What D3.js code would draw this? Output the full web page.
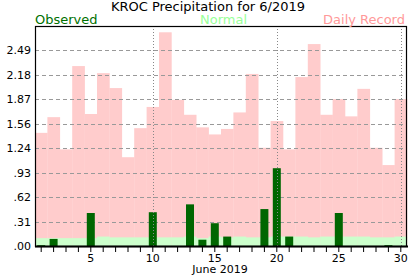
<!DOCTYPE html>
<html><head><meta charset="utf-8">
<script src="https://cdn.jsdelivr.net/npm/d3@7"></script>
<style>body{margin:0;background:#fff}svg{display:block}text{font-family:"DejaVu Sans",Verdana,sans-serif}</style>
</head><body><svg id="c" width="417" height="276"></svg>
<script>
const days = d3.range(1, 31);
const record = [1.44,1.64,1.23,2.29,1.68,2.20,2.01,1.13,1.50,1.77,2.72,1.86,1.67,1.51,1.42,1.49,1.70,2.19,1.25,1.59,1.23,2.15,2.57,1.67,1.87,1.65,2.00,1.25,1.03,1.87];
const normal = [0.10,0.10,0.10,0.10,0.10,0.12,0.11,0.11,0.11,0.11,0.11,0.11,0.12,0.10,0.12,0.11,0.12,0.11,0.11,0.12,0.12,0.12,0.11,0.12,0.12,0.12,0.12,0.11,0.11,0.12];
const observedDays = [1,2,5,10,13,14,15,16,19,20,21,25,29];
const observedVals = [0.01,0.09,0.42,0.43,0.53,0.08,0.29,0.12,0.47,0.99,0.12,0.42,0.01];
const yTicks = d3.range(0, 9).map(i => i * 2.8 / 9);
const xLabelDays = [5,10,15,20,25,30];
const vLineDays = [10,20,30];
const title = "KROC Precipitation for 6/2019";
const xTitle = "June 2019";

const svg = d3.select("#c");
const L = 35, R = 407, T = 26, B = 246;
const x = d3.scaleBand().domain(days).range([L, R]).padding(0);
const y = d3.scaleLinear().domain([0, 2.8]).range([B, T]);
const fmt = v => { const s = v.toFixed(2); return s.startsWith("0") ? s.slice(1) : s; };

// record bars
svg.append("g").selectAll("rect").data(days).join("rect")
  .attr("x", d => x(d)).attr("width", x.bandwidth() + 0.3)
  .attr("y", (d,i) => y(record[i])).attr("height", (d,i) => B - y(record[i]))
  .attr("fill", "#ffcccc");
// normal bars
svg.append("g").selectAll("rect").data(days).join("rect")
  .attr("x", d => x(d)).attr("width", x.bandwidth() + 0.3)
  .attr("y", (d,i) => y(normal[i])).attr("height", (d,i) => B - y(normal[i]))
  .attr("fill", "#ccffcc");
// horizontal grid
svg.append("g").selectAll("line").data(yTicks.slice(1)).join("line")
  .attr("x1", L).attr("x2", R).attr("y1", d => Math.round(y(d)) + 0.5).attr("y2", d => Math.round(y(d)) + 0.5)
  .attr("stroke", "#999").attr("stroke-dasharray", "4,3");
// observed bars
const obsW = 8;
svg.append("g").selectAll("rect").data(observedDays).join("rect")
  .attr("x", d => x(d) + x.bandwidth()/2 - obsW/2).attr("width", obsW)
  .attr("y", (d,i) => y(observedVals[i])).attr("height", (d,i) => B - y(observedVals[i]))
  .attr("fill", "#006600");
// vertical dotted lines
svg.append("g").selectAll("line").data(vLineDays).join("line")
  .attr("x1", d => Math.round(x(d) + x.bandwidth()/2) + 0.5).attr("x2", d => Math.round(x(d) + x.bandwidth()/2) + 0.5)
  .attr("y1", T).attr("y2", B)
  .attr("stroke", "#888").attr("stroke-dasharray", "1,2");

// frame
svg.append("rect").attr("x", L + 0.5).attr("y", T + 0.5).attr("width", R - L - 1).attr("height", B - T)
  .attr("fill", "none").attr("stroke", "#000").attr("stroke-width", 1.2);
svg.append("line").attr("x1", L).attr("x2", R + 1).attr("y1", B + 0.5).attr("y2", B + 0.5).attr("stroke", "#000").attr("stroke-width", 2);

// x axis ticks
const xAxis = d3.axisBottom(x).tickSize(5).tickFormat(d => xLabelDays.includes(d) ? d : "");
const gx = svg.append("g").attr("transform", `translate(0,${B + 1})`).call(xAxis);
gx.select(".domain").remove();
gx.selectAll("line").attr("stroke", "#000");
gx.selectAll("text").attr("font-size", 11).attr("fill", "#000").attr("dy", null).attr("y", 14.5)
  .style("font-family", '"DejaVu Sans",Verdana,sans-serif');

// y axis
const yAxis = d3.axisLeft(y).tickValues(yTicks).tickSize(0).tickPadding(4).tickFormat(fmt);
const gy = svg.append("g").attr("transform", `translate(${L},0)`).call(yAxis);
gy.select(".domain").remove();
gy.selectAll("text").attr("font-size", 11).attr("fill", "#000")
  .style("font-family", '"DejaVu Sans",Verdana,sans-serif');

// titles
svg.append("text").attr("x", 208).attr("y", 11).attr("text-anchor", "middle").attr("font-size", 13).attr("fill", "#000").text(title);
svg.append("text").attr("x", 35).attr("y", 24).attr("font-size", 13).attr("fill", "#007000").text("Observed");
svg.append("text").attr("x", 223.5).attr("y", 24).attr("text-anchor", "middle").attr("font-size", 13).attr("fill", "#99ff99").text("Normal");
svg.append("text").attr("x", 405).attr("y", 24).attr("text-anchor", "end").attr("font-size", 13).attr("fill", "#ff9999").text("Daily Record");
svg.append("text").attr("x", 220).attr("y", 272.5).attr("text-anchor", "middle").attr("font-size", 11).attr("fill", "#000").text(xTitle);
</script></body></html>
